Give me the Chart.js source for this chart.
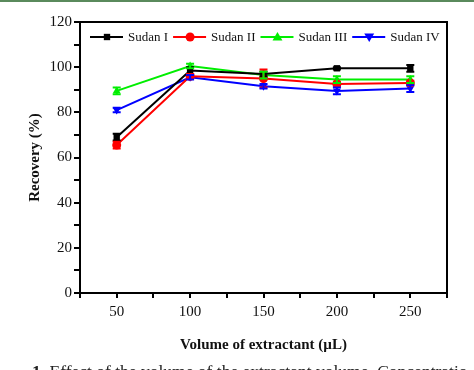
<!DOCTYPE html>
<html>
<head>
<meta charset="utf-8">
<script src="https://cdn.jsdelivr.net/npm/chart.js"></script>
<style>
  html, body { margin: 0; padding: 0; background: #fff; }
  #wrap { position: relative; width: 474px; height: 370px; overflow: hidden; }
  #topbar { position: absolute; left: 0; top: 0; width: 474px; height: 2px; background: #5a8a5c; }
  #caption { position: absolute; left: 32px; top: 361px; white-space: nowrap;
    font-family: "Liberation Serif", serif; font-size: 17.5px; color: #222; }
</style>
</head>
<body>
<div id="wrap">
  <canvas id="recoveryChart" width="474" height="370"></canvas>
  <div id="topbar"></div>
  <div id="caption"><b>1.</b> Effect of the volume of the extractant volume. Concentratio</div>
</div>
<script>
// volume of extractant (uL)
var volumes = [50, 100, 150, 200, 250];

// recovery (%) and error bars
var sudan1 = [69, 98.5, 97, 99.5, 99.5];
var sudan1Err = [1.5, 1.5, 1, 0.5, 1.5];
var sudan2 = [65.5, 96, 95, 92.5, 93];
var sudan2Err = [1.5, 1, 4, 1, 1];
var sudan3 = [89.5, 100.5, 96.5, 94.5, 94.5];
var sudan3Err = [1.5, 1, 1.5, 1.5, 1.5];
var sudan4 = [81, 95.5, 91.5, 89.5, 90.5];
var sudan4Err = [1, 1, 1, 1.5, 1.5];

var yTicks = [0, 20, 40, 60, 80, 100, 120];
var xTicks = [50, 100, 150, 200, 250];

var serif = '"Liberation Serif", "Times New Roman", serif';

function pts(values) {
	return values.map(function (v, i) { return {x: volumes[i], y: v}; });
}

function drawMarker(ctx, style, rot, r, x, y, color) {
	ctx.save();
	ctx.fillStyle = color;
	ctx.beginPath();
	if (style === 'rect') {
		var s = r * Math.SQRT1_2;
		ctx.rect(x - s, y - s, 2 * s, 2 * s);
	} else if (style === 'circle') {
		ctx.arc(x, y, r, 0, Math.PI * 2);
	} else {
		var d = rot === 180 ? -1 : 1;
		var h = r * 1.1;
		ctx.moveTo(x, y - d * h);
		ctx.lineTo(x + h, y + d * h * 0.7);
		ctx.lineTo(x - h, y + d * h * 0.7);
		ctx.closePath();
	}
	ctx.fill();
	ctx.restore();
}

var errorBars = {
	id: 'errorBars',
	afterDatasetsDraw: function (chart) {
		var ctx = chart.ctx;
		var ys = chart.scales.y;
		chart.data.datasets.forEach(function (ds, di) {
			var meta = chart.getDatasetMeta(di);
			ctx.save();
			ctx.strokeStyle = ds.borderColor;
			ctx.lineWidth = 2;
			meta.data.forEach(function (pt, i) {
				var v = ds.data[i].y, e = ds.errors[i];
				var top = ys.getPixelForValue(v + e);
				var bot = ys.getPixelForValue(v - e);
				ctx.beginPath();
				ctx.moveTo(pt.x, top); ctx.lineTo(pt.x, bot);
				ctx.moveTo(pt.x - 4, top); ctx.lineTo(pt.x + 4, top);
				ctx.moveTo(pt.x - 4, bot); ctx.lineTo(pt.x + 4, bot);
				ctx.stroke();
			});
			ctx.restore();
		});
	}
};

var frame = {
	id: 'frame',
	afterDraw: function (chart) {
		var a = chart.chartArea, ctx = chart.ctx;
		ctx.save();
		ctx.strokeStyle = '#000';
		ctx.lineWidth = 2;
		ctx.strokeRect(a.left, a.top, a.right - a.left, a.bottom - a.top);
		ctx.restore();
	}
};

var innerLegend = {
	id: 'innerLegend',
	afterDraw: function (chart) {
		var a = chart.chartArea, ctx = chart.ctx;
		var x = a.left + 10, y = a.top + 15;
		ctx.save();
		ctx.font = '13px ' + serif;
		ctx.textBaseline = 'middle';
		chart.data.datasets.forEach(function (ds) {
			ctx.strokeStyle = ds.borderColor;
			ctx.lineWidth = 2;
			ctx.beginPath();
			ctx.moveTo(x, y); ctx.lineTo(x + 33, y);
			ctx.stroke();
			drawMarker(ctx, ds.pointStyle, ds.pointRotation, ds.pointRadius, x + 17, y, ds.borderColor);
			ctx.fillStyle = '#111';
			ctx.fillText(ds.label, x + 38, y + 1);
			x += 38 + ctx.measureText(ds.label).width + 5;
		});
		ctx.restore();
	}
};

function series(label, values, errs, color, style, rot) {
	return {
		label: label,
		data: pts(values),
		errors: errs,
		borderColor: color,
		backgroundColor: color,
		borderWidth: 2,
		pointStyle: style,
		pointRotation: rot,
		pointRadius: 4.5,
		pointHoverRadius: 4.5,
		pointBorderWidth: 0,
		tension: 0
	};
}

var ctx = document.getElementById('recoveryChart').getContext('2d');
var chart = new Chart(ctx, {
	type: 'line',
	data: {
		datasets: [
			series('Sudan I', sudan1, sudan1Err, '#000000', 'rect', 0),
			series('Sudan II', sudan2, sudan2Err, '#ff0000', 'circle', 0),
			series('Sudan III', sudan3, sudan3Err, '#00ee00', 'triangle', 0),
			series('Sudan IV', sudan4, sudan4Err, '#0000ff', 'triangle', 180)
		]
	},
	options: {
		responsive: false,
		animation: false,
		events: [],
		layout: {padding: {top: 22, right: 27, left: 0, bottom: 0}},
		plugins: {legend: {display: false}, tooltip: {enabled: false}},
		scales: {
			x: {
				type: 'linear',
				min: 25,
				max: 275,
				afterFit: function (s) { s.height = 77; },
				afterBuildTicks: function (s) {
					s.ticks = [];
					for (var v = 25; v <= 275; v += 25) s.ticks.push({value: v});
				},
				ticks: {
					color: '#111',
					padding: 5,
					maxRotation: 0,
					autoSkip: false,
					font: {family: serif, size: 15},
					callback: function (v) { return xTicks.indexOf(v) >= 0 ? String(v) : ''; }
				},
				grid: {drawOnChartArea: false, drawTicks: true, tickLength: 5, color: '#000', lineWidth: 2},
				border: {display: false},
				title: {
					display: true,
					text: 'Volume of extractant (\u00b5L)',
					color: '#111',
					font: {family: serif, size: 15, weight: 'bold'},
					padding: {top: 0, bottom: 16}
				}
			},
			y: {
				min: 0,
				max: 120,
				afterFit: function (s) { s.width = 80; },
				afterBuildTicks: function (s) {
					s.ticks = [];
					for (var v = 0; v <= 120; v += 10) s.ticks.push({value: v});
				},
				ticks: {
					color: '#111',
					padding: 2,
					autoSkip: false,
					font: {family: serif, size: 15},
					callback: function (v) { return yTicks.indexOf(v) >= 0 ? String(v) : ''; }
				},
				grid: {drawOnChartArea: false, drawTicks: true, tickLength: 6, color: '#000', lineWidth: 2},
				border: {display: false},
				title: {
					display: true,
					text: 'Recovery (%)',
					color: '#111',
					font: {family: serif, size: 15, weight: 'bold'},
					padding: {top: 26, bottom: 0}
				}
			}
		}
	},
	plugins: [errorBars, frame, innerLegend]
});
</script>
</body>
</html>
